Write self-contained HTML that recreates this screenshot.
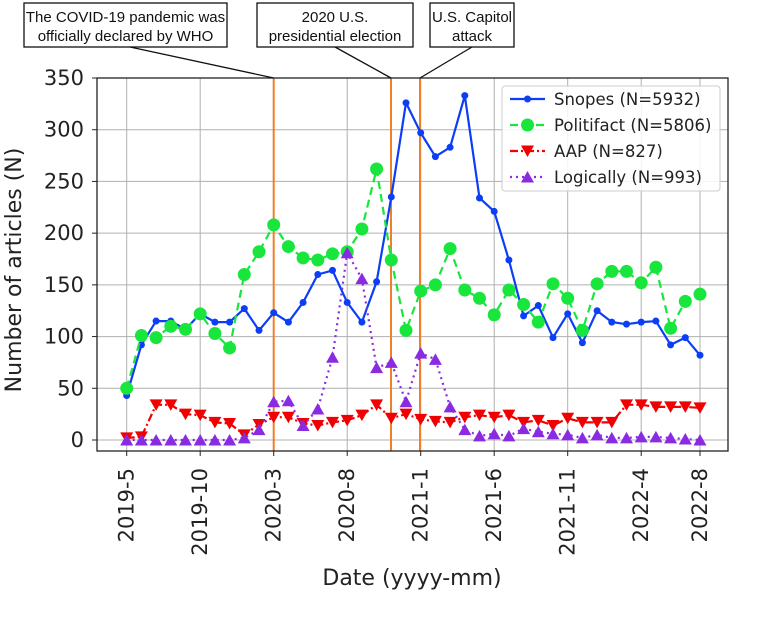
<!DOCTYPE html>
<html><head><meta charset="utf-8"><style>body{margin:0;background:#fff}svg{display:block;font-family:"DejaVu Sans","Liberation Sans",sans-serif}</style></head>
<body>
<svg id="s" width="768" height="623" viewBox="0 0 768 623" xmlns="http://www.w3.org/2000/svg">
<rect width="768" height="623" fill="#fff"/>
<g id="grid" stroke="#b0b0b0" stroke-width="1"></g>
<g id="vlines" stroke="#f07f2a" stroke-width="2">
<line x1="273.7" y1="78" x2="273.7" y2="451"/>
<line x1="391" y1="78" x2="391" y2="451"/>
<line x1="420" y1="78" x2="420" y2="451"/>
</g>
<g id="series"></g>
<rect x="97" y="78" width="631" height="373" fill="none" stroke="#222" stroke-width="1.3"/>
<g id="ticks" font-size="21" fill="#222"></g>
<text x="21" y="270" font-size="22" text-anchor="middle" transform="rotate(-90 21 270)" fill="#222">Number of articles (N)</text>
<text x="412" y="585" font-size="22" text-anchor="middle" fill="#222">Date (yyyy-mm)</text>
<g stroke="#111" stroke-width="1.3" fill="#fff">
<line x1="130" y1="47" x2="273.7" y2="78"/>
<line x1="335" y1="47" x2="391" y2="78"/>
<line x1="472" y1="47" x2="420" y2="78"/>
<rect x="24" y="3" width="203" height="44"/>
<rect x="257" y="3" width="156" height="44"/>
<rect x="430" y="3" width="84" height="44"/>
</g>
<g font-family="Liberation Sans,sans-serif" font-size="15" text-anchor="middle" fill="#111">
<text x="125.5" y="22">The COVID-19 pandemic was</text>
<text x="125.5" y="41">officially declared by WHO</text>
<text x="335" y="22">2020 U.S.</text>
<text x="335" y="41">presidential election</text>
<text x="472" y="22">U.S. Capitol</text>
<text x="472" y="41">attack</text>
</g>
<g>
<rect x="502" y="86" width="218" height="105" rx="3" fill="#fff" fill-opacity="0.85" stroke="#ccc"/>
<g font-size="16.5" fill="#222">
<text x="554" y="105">Snopes (N=5932)</text>
<text x="554" y="131">Politifact (N=5806)</text>
<text x="554" y="157">AAP (N=827)</text>
<text x="554" y="183">Logically (N=993)</text>
</g>
<g id="leg"></g>
</g>
</svg>
<script>
const X0=126.7,DX=14.7,Y0=440,SY=(440-78)/350;
const X=i=>X0+DX*i,Y=v=>Y0-v*SY;
const sn=[43,92,115,115,107,122,114,114,127,106,123,114,133,160,164,133,114,153,235,326,297,274,283,333,234,221,174,120,130,99,122,94,125,114,112,114,115,92,99,82];
const pf=[50,101,99,110,107,122,103,89,160,182,208,187,176,174,180,182,204,262,174,106,144,150,185,145,137,121,145,131,114,151,137,106,151,163,163,152,167,108,134,141];
const aap=[2,3,34,34,25,24,17,16,5,15,22,22,16,14,17,19,24,34,21,25,20,18,17,22,24,22,24,17,19,14,21,17,17,17,34,34,32,32,32,31];
const lg=[0,0,0,0,0,0,0,0,2,10,37,38,14,30,80,181,156,70,75,37,84,78,32,10,4,6,4,11,8,6,5,2,5,2,2,3,3,2,1,0];
const NS="http://www.w3.org/2000/svg";
function el(p,t,a){const e=document.createElementNS(NS,t);for(const k in a)e.setAttribute(k,a[k]);p.appendChild(e);return e;}
const g=document.getElementById('grid'),tk=document.getElementById('ticks'),s=document.getElementById('series'),lgd=document.getElementById('leg');
for(let v=0;v<=350;v+=50){el(g,'line',{x1:97,x2:728,y1:Y(v),y2:Y(v)});el(tk,'line',{x1:92,x2:97,y1:Y(v),y2:Y(v),stroke:'#222'});const t=el(tk,'text',{x:84,y:Y(v)+7,'text-anchor':'end'});t.textContent=v;}
const labs=['2019-5','2019-10','2020-3','2020-8','2021-1','2021-6','2021-11','2022-4','2022-8'];
labs.forEach((l,k)=>{const i=k<8?k*5:39;const x=X(i);el(g,'line',{x1:x,x2:x,y1:78,y2:451});el(tk,'line',{x1:x,x2:x,y1:451,y2:456,stroke:'#222'});const t=el(tk,'text',{x:x+7,y:468,'text-anchor':'end',transform:`rotate(-90 ${x+7} 468)`});t.textContent=l;});
function pts(d){return d.map((v,i)=>X(i).toFixed(1)+','+Y(v).toFixed(1)).join(' ');}
function mk(p,x,y,type,c){if(type=='o')el(p,'circle',{cx:x,cy:y,r:6.5,fill:c});else if(type=='.')el(p,'circle',{cx:x,cy:y,r:3.5,fill:c});else if(type=='v')el(p,'polygon',{points:`${x-6.5},${y-5.5} ${x+6.5},${y-5.5} ${x},${y+6}`,fill:c});else el(p,'polygon',{points:`${x-6.5},${y+5.5} ${x+6.5},${y+5.5} ${x},${y-6}`,fill:c});}
const S=[[sn,'#0b3ef5','.',''],[pf,'#19e63c','o','8,5'],[aap,'#f00000','v','8,3,2,3'],[lg,'#8a2be2','^','2,4']];
S.forEach(([d,c,m,da],k)=>{el(s,'polyline',{points:pts(d),fill:'none',stroke:c,'stroke-width':2.2,'stroke-dasharray':da});d.forEach((v,i)=>mk(s,X(i),Y(v),m,c));
const ly=99+26*k;el(lgd,'line',{x1:510,x2:545,y1:ly,y2:ly,stroke:c,'stroke-width':2.2,'stroke-dasharray':da});mk(lgd,527.5,ly,m,c);});
</script>
</body></html>
